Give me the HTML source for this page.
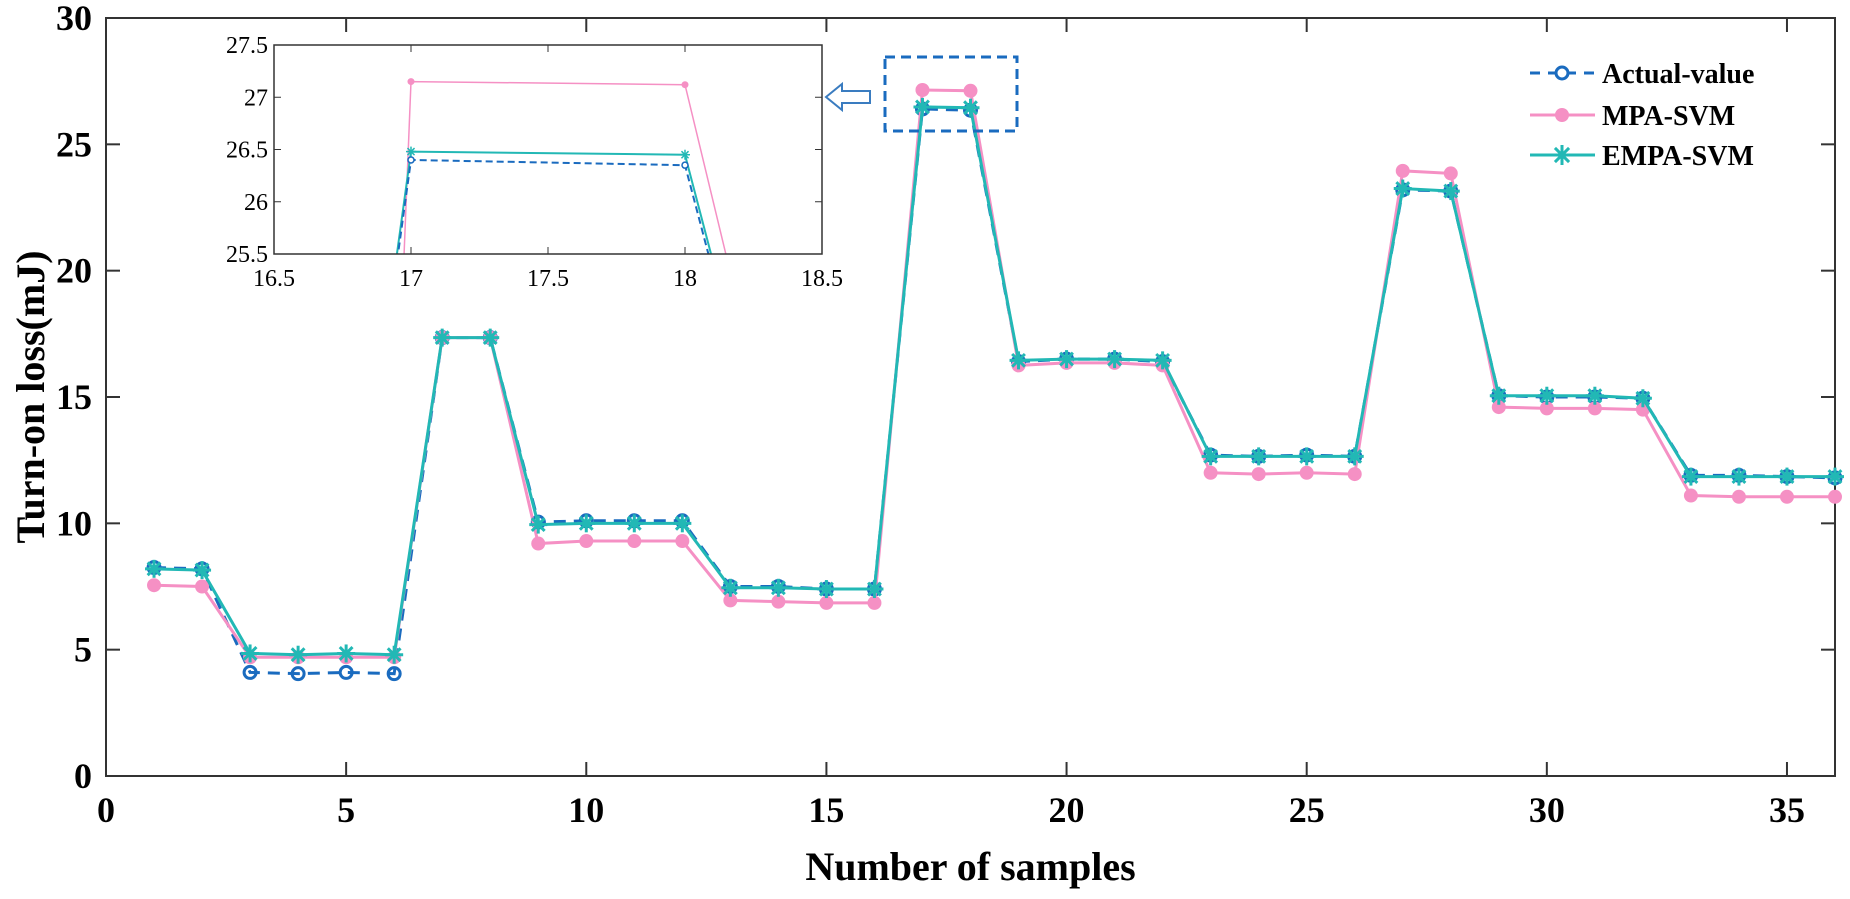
<!DOCTYPE html>
<html><head><meta charset="utf-8"><style>
html,body{margin:0;padding:0;background:#fff;width:1850px;height:899px;overflow:hidden;}
svg{display:block;font-family:"Liberation Serif",serif;font-weight:bold;}
</style></head><body>
<svg id="s" width="1850" height="899" xmlns="http://www.w3.org/2000/svg"></svg>
<script>
const A=[8.25,8.2,4.1,4.05,4.1,4.05,17.35,17.35,10.05,10.1,10.1,10.1,7.5,7.5,7.4,7.4,26.4,26.35,16.4,16.5,16.5,16.4,12.7,12.65,12.7,12.65,23.2,23.15,15.05,15.0,15.0,14.95,11.9,11.9,11.85,11.8];
const M=[7.55,7.5,4.7,4.7,4.7,4.7,17.35,17.35,9.2,9.3,9.3,9.3,6.95,6.9,6.85,6.85,27.15,27.12,16.25,16.35,16.35,16.25,12.0,11.95,12.0,11.95,23.95,23.85,14.6,14.55,14.55,14.5,11.1,11.05,11.05,11.05];
const E=[8.2,8.15,4.85,4.8,4.85,4.8,17.35,17.35,9.95,10.0,10.0,10.0,7.45,7.45,7.4,7.4,26.48,26.45,16.45,16.5,16.5,16.45,12.65,12.65,12.65,12.65,23.25,23.15,15.05,15.05,15.05,14.95,11.85,11.85,11.85,11.85];
const L=106,R=1835,T=18,B=776;
const X=v=>L+(R-L)*v/36, Y=v=>B-(B-T)*v/30;
const CA="#1a6bbf",CM="#f590c4",CE="#22b8b5";
let h='';
function star(x,y,r,c,w){let s='';for(let k=0;k<4;k++){const a=k*Math.PI/4;s+=`<line x1="${x-r*Math.cos(a)}" y1="${y-r*Math.sin(a)}" x2="${x+r*Math.cos(a)}" y2="${y+r*Math.sin(a)}" stroke="${c}" stroke-width="${w}"/>`;}return s;}
h+=`<rect x="${L}" y="${T}" width="${R-L}" height="${B-T}" fill="none" stroke="#333" stroke-width="2"/>`;
for(let v=0;v<=35;v+=5){const x=X(v);h+=`<line x1="${x}" y1="${B}" x2="${x}" y2="${B-14}" stroke="#333" stroke-width="2"/><line x1="${x}" y1="${T}" x2="${x}" y2="${T+14}" stroke="#333" stroke-width="2"/><text x="${x}" y="${B+46}" font-size="36" text-anchor="middle">${v}</text>`;}
for(let v=0;v<=30;v+=5){const y=Y(v);h+=`<line x1="${L}" y1="${y}" x2="${L+14}" y2="${y}" stroke="#333" stroke-width="2"/><line x1="${R}" y1="${y}" x2="${R-14}" y2="${y}" stroke="#333" stroke-width="2"/><text x="${L-14}" y="${y+12}" font-size="36" text-anchor="end">${v}</text>`;}
h+=`<text x="${(L+R)/2}" y="880" font-size="40" text-anchor="middle">Number of samples</text>`;
h+=`<text transform="translate(44,${(T+B)/2}) rotate(-90)" font-size="40" text-anchor="middle">Turn-on loss(mJ)</text>`;
function pts(d){return d.map((v,i)=>`${X(i+1)},${Y(v)}`).join(' ');}
h+=`<polyline points="${pts(A)}" fill="none" stroke="${CA}" stroke-width="3" stroke-dasharray="12,8"/>`;
A.forEach((v,i)=>h+=`<circle cx="${X(i+1)}" cy="${Y(v)}" r="6" fill="none" stroke="${CA}" stroke-width="3"/>`);
h+=`<polyline points="${pts(M)}" fill="none" stroke="${CM}" stroke-width="3"/>`;
M.forEach((v,i)=>h+=`<circle cx="${X(i+1)}" cy="${Y(v)}" r="7" fill="${CM}"/>`);
h+=`<polyline points="${pts(E)}" fill="none" stroke="${CE}" stroke-width="3"/>`;
E.forEach((v,i)=>h+=star(X(i+1),Y(v),9,CE,3));
h+=`<rect x="885" y="57" width="132" height="74" fill="none" stroke="${CA}" stroke-width="3" stroke-dasharray="10,6"/>`;
h+=`<path d="M826,97 L842,84 L842,91 L870,91 L870,103 L842,103 L842,110 Z" fill="#fff" stroke="#3a7cc0" stroke-width="2"/>`;
const lg=[[73,CA,'Actual-value'],[115,CM,'MPA-SVM'],[155,CE,'EMPA-SVM']];
lg.forEach(([y,c,t],k)=>{
 if(k==0){h+=`<line x1="1530" y1="${y}" x2="1595" y2="${y}" stroke="${c}" stroke-width="3" stroke-dasharray="10,8"/><circle cx="1562" cy="${y}" r="6" fill="#fff" stroke="${c}" stroke-width="3"/>`;}
 else if(k==1){h+=`<line x1="1530" y1="${y}" x2="1595" y2="${y}" stroke="${c}" stroke-width="3"/><circle cx="1562" cy="${y}" r="7" fill="${c}"/>`;}
 else{h+=`<line x1="1530" y1="${y}" x2="1595" y2="${y}" stroke="${c}" stroke-width="3"/>`+star(1562,y,10,c,3);}
 h+=`<text x="1602" y="${y+10}" font-size="28">${t}</text>`;
});
const iL=274,iR=822,iT=45,iB=254;
const IX=v=>iL+(iR-iL)*(v-16.5)/2, IY=v=>iB-(iB-iT)*(v-25.5)/2;
h+=`<rect x="${iL}" y="${iT}" width="${iR-iL}" height="${iB-iT}" fill="#fff"/>`;
h+=`<clipPath id="c"><rect x="${iL}" y="${iT}" width="${iR-iL}" height="${iB-iT}"/></clipPath><g clip-path="url(#c)">`;
h+=`<polyline points="${IX(16.85)},${IY(17.35)} ${IX(17)},${IY(27.15)} ${IX(18)},${IY(27.12)} ${IX(19)},${IY(16.25)}" fill="none" stroke="${CM}" stroke-width="1.5"/>`;
h+=`<circle cx="${IX(17)}" cy="${IY(27.15)}" r="3.5" fill="${CM}"/><circle cx="${IX(18)}" cy="${IY(27.12)}" r="3.5" fill="${CM}"/>`;
h+=`<polyline points="${IX(16)},${IY(7.4)} ${IX(17)},${IY(26.48)} ${IX(18)},${IY(26.45)} ${IX(19)},${IY(16.45)}" fill="none" stroke="${CE}" stroke-width="2"/>`;
h+=star(IX(17),IY(26.48),5,CE,1.5)+star(IX(18),IY(26.45),5,CE,1.5);
h+=`<polyline points="${IX(16)},${IY(7.4)} ${IX(17)},${IY(26.4)} ${IX(18)},${IY(26.35)} ${IX(19)},${IY(16.4)}" fill="none" stroke="${CA}" stroke-width="2" stroke-dasharray="7,4"/>`;
h+=`<circle cx="${IX(17)}" cy="${IY(26.4)}" r="3" fill="#fff" stroke="${CA}" stroke-width="1.5"/><circle cx="${IX(18)}" cy="${IY(26.35)}" r="3" fill="#fff" stroke="${CA}" stroke-width="1.5"/>`;
h+=`</g><rect x="${iL}" y="${iT}" width="${iR-iL}" height="${iB-iT}" fill="none" stroke="#333" stroke-width="1.5"/>`;
[16.5,17,17.5,18,18.5].forEach(v=>{const x=IX(v);h+=`<line x1="${x}" y1="${iB}" x2="${x}" y2="${iB-7}" stroke="#333"/><line x1="${x}" y1="${iT}" x2="${x}" y2="${iT+7}" stroke="#333"/><text x="${x}" y="${iB+32}" font-size="24" font-weight="normal" text-anchor="middle">${v}</text>`;});
[25.5,26,26.5,27,27.5].forEach(v=>{const y=IY(v);h+=`<line x1="${iL}" y1="${y}" x2="${iL+7}" y2="${y}" stroke="#333"/><line x1="${iR}" y1="${y}" x2="${iR-7}" y2="${y}" stroke="#333"/><text x="${iL-6}" y="${y+8}" font-size="24" font-weight="normal" text-anchor="end">${v}</text>`;});
document.getElementById('s').innerHTML=h;
</script>
</body></html>
